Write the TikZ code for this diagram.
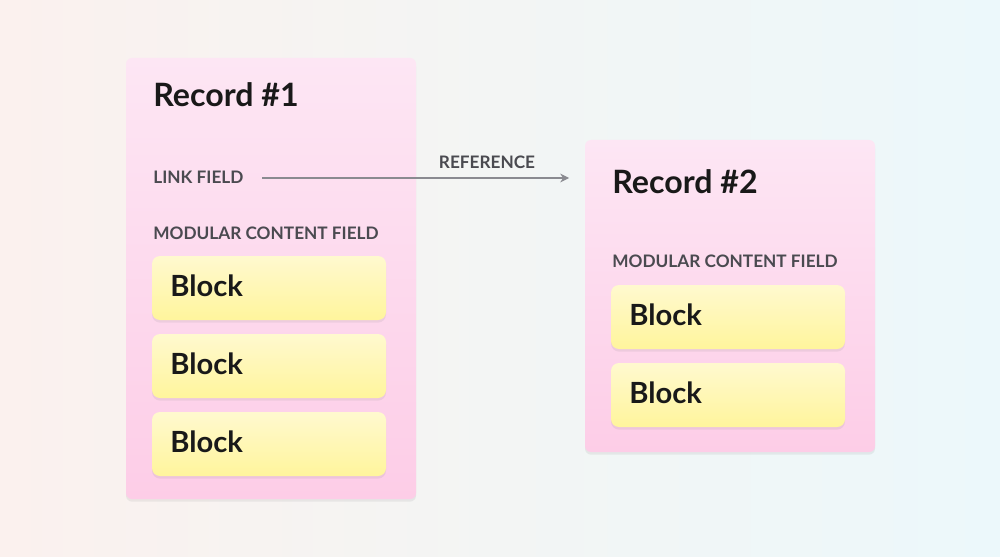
\documentclass[tikz,border=0pt]{standalone}
\usepackage{fontspec}
\setmainfont{Lato}
\usetikzlibrary{shadows,arrows.meta}
\definecolor{cardtop}{HTML}{FDE6F4}
\definecolor{cardbot}{HTML}{FDCDE7}
\definecolor{blktop}{HTML}{FFF9CF}
\definecolor{blkbot}{HTML}{FFF59C}
\definecolor{lab}{HTML}{4A4A50}
\definecolor{arr}{HTML}{8A8A90}
\definecolor{bgl}{HTML}{FBF1EE}
\definecolor{bgm}{HTML}{F3F5F4}
\definecolor{bgr}{HTML}{ECF8FB}
\tikzset{
 card/.style={rounded corners=0.12cm, top color=cardtop, bottom color=cardbot, draw=none,
   drop shadow={opacity=0.12, shadow xshift=0pt, shadow yshift=-1.5pt}},
 blockbox/.style={rounded corners=0.16cm, top color=blktop, bottom color=blkbot, draw=none,
   drop shadow={opacity=0.12, shadow xshift=0pt, shadow yshift=-1.5pt}},
 title/.style={anchor=base west, inner sep=0, font=\fontsize{18.3}{22}\selectfont\bfseries, text=black!90},
 btext/.style={anchor=base west, inner sep=0, font=\fontsize{16.6}{20}\selectfont\bfseries, text=black!90},
 label/.style={anchor=base west, inner sep=0, font=\fontsize{9.8}{11}\selectfont\bfseries, text=lab},
}
\begin{document}
\begin{tikzpicture}[x=0.02cm,y=-0.02cm]
\useasboundingbox (0,0) rectangle (1000,557);
\shade[left color=bgl, right color=bgr, middle color=bgm] (0,0) rectangle (1000,557);
% record 1
\path[card] (126,58) rectangle (416,499);
\node[title] (t1) at (153,107) {Record \#1};
\node[label] (lf) at (153,184) {LINK FIELD};
\node[label] (m1) at (153,239) {MODULAR CONTENT FIELD};
\path[blockbox] (152,256) rectangle (386,320);
\path[blockbox] (152,334) rectangle (386,398);
\path[blockbox] (152,412) rectangle (386,476);
\node[btext] (b11) at (170,296) {Block};
\node[btext] (b12) at (170,374) {Block};
\node[btext] (b13) at (170,452) {Block};
% record 2
\path[card] (585,140) rectangle (875,452);
\node[title] (t2) at (612,194) {Record \#2};
\node[label] (m2) at (612,267) {MODULAR CONTENT FIELD};
\path[blockbox] (611,285) rectangle (845,349);
\path[blockbox] (611,363) rectangle (845,427);
\node[btext] (b21) at (629,325) {Block};
\node[btext] (b22) at (629,403) {Block};
% arrow
\coordinate (as) at (262,178);
\coordinate (ae) at (569,178);
\draw[arr, line width=0.6pt, -{Stealth[length=5pt,width=5pt]}] (as) -- (ae);
\node[anchor=base, inner sep=0, font=\fontsize{9.8}{11}\selectfont\bfseries, text=lab] (ref) at (487,169) {REFERENCE};
\end{tikzpicture}
\end{document}
